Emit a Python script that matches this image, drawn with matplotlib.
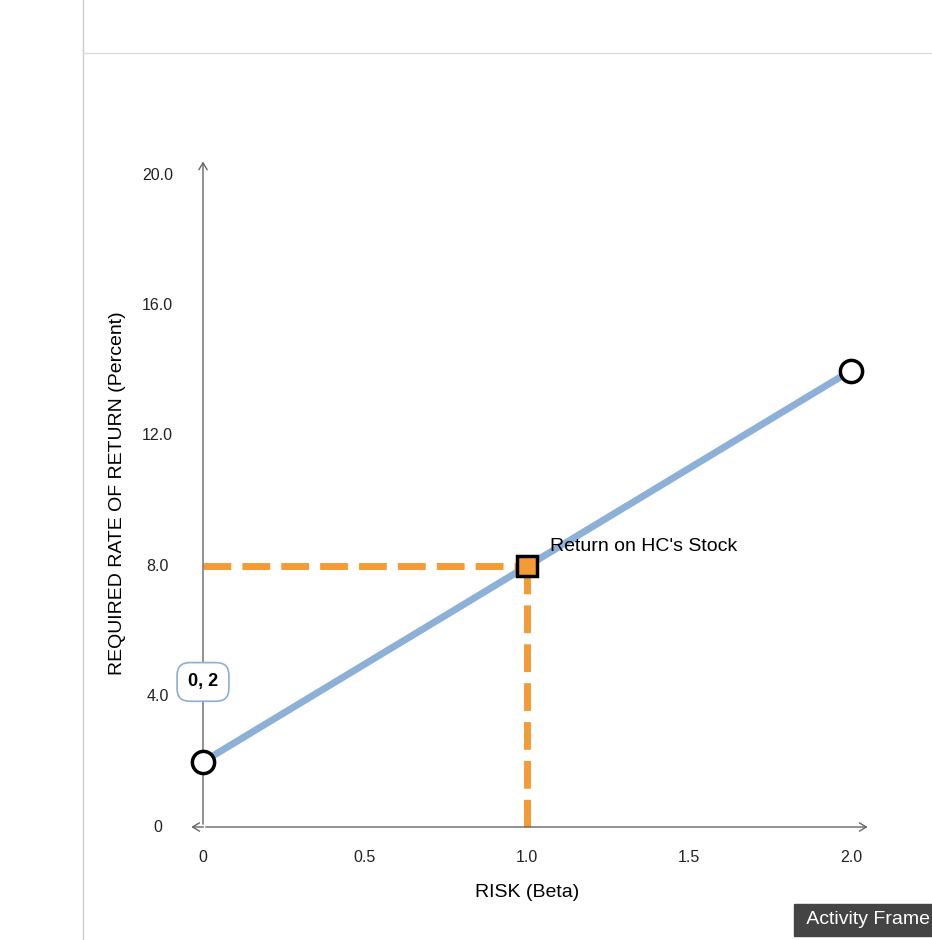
import matplotlib
matplotlib.use("Agg")
import matplotlib.pyplot as plt
from matplotlib.lines import Line2D

plt.rcParams['font.family'] = ['Liberation Sans', 'DejaVu Sans']

x_ticks = [0, 0.5, 1.0, 1.5, 2.0]
x_labels = ["0", "0.5", "1.0", "1.5", "2.0"]
y_ticks = [0, 4, 8, 12, 16, 20]
y_labels = ["0", "4.0", "8.0", "12.0", "16.0", "20.0"]
sml_beta = [0, 2]
sml_ret = [2, 14]
stock_beta = 1.0
stock_ret = 8.0

W, H = 932, 940
fig = plt.figure(figsize=(W/100, H/100), dpi=100)
fig.add_artist(Line2D([83/W, 83/W], [0, 1], color="#cccccc", lw=1))
fig.add_artist(Line2D([83/W, 1], [1-53/H, 1-53/H], color="#dddddd", lw=1))

ax = fig.add_axes([203/W, (H-827)/H, (851-203)/W, 652/H])
ax.set_xlim(0, 2)
ax.set_ylim(0, 20)
ax.axis("off")

gray = "#666666"
ax.annotate("", xy=(0, 20.5), xytext=(0, 0), arrowprops=dict(arrowstyle="->,head_length=0.5,head_width=0.3", color=gray, lw=1), annotation_clip=False)
ax.annotate("", xy=(2.06, 0), xytext=(0, 0), arrowprops=dict(arrowstyle="->,head_length=0.5,head_width=0.3", color=gray, lw=1), annotation_clip=False)
ax.annotate("", xy=(-0.045, 0), xytext=(0.01, 0), arrowprops=dict(arrowstyle="->,head_length=0.5,head_width=0.3", color=gray, lw=1), annotation_clip=False)

for t, l in zip(y_ticks, y_labels):
    ax.text(-0.14, t, l, ha="center", va="center", fontsize=11.5, color="#222222")
for t, l in zip(x_ticks, x_labels):
    ax.text(t, -0.95, l, ha="center", va="center", fontsize=11.5, color="#222222")
ax.text(1.0, -2.0, "RISK (Beta)", ha="center", va="center", fontsize=14)
fig.text(118/W, 1-493/H, "REQUIRED RATE OF RETURN (Percent)", rotation=90, ha="center", va="center", fontsize=14)

orange = "#f39c35"
ax.plot([0, stock_beta], [stock_ret, stock_ret], color=orange, lw=5, ls=(0, (4, 1.6)), clip_on=False, zorder=2)
ax.plot([stock_beta, stock_beta], [stock_ret, 0], color=orange, lw=5, ls=(0, (4, 1.6)), clip_on=False, zorder=2)
ax.plot(sml_beta, sml_ret, color="#8cb0d6", lw=5, solid_capstyle="butt", zorder=3, clip_on=False)
ax.plot([stock_beta], [stock_ret], marker="s", ms=14, mfc=orange, mec="black", mew=2.5, zorder=5, clip_on=False)
ax.plot(sml_beta, sml_ret, ls="none", marker="o", ms=16, mfc="white", mec="black", mew=2.5, zorder=5, clip_on=False)
ax.text(1.07, 8.6, "Return on HC's Stock", fontsize=14, ha="left", va="center")
ax.text(0.0, 4.45, "0, 2", fontsize=13, fontweight="bold", ha="center", va="center", zorder=6,
        bbox=dict(boxstyle="round,pad=0.6,rounding_size=0.7", fc="white", ec="#8aaed6", lw=1.2))

fig.text(1-2/W, 1-920/H, " Activity Frame", fontsize=14, color="white", ha="right", va="center",
         bbox=dict(boxstyle="square,pad=0.4", fc="#444444", ec="#444444"))

fig.savefig("out.png", dpi=100)
